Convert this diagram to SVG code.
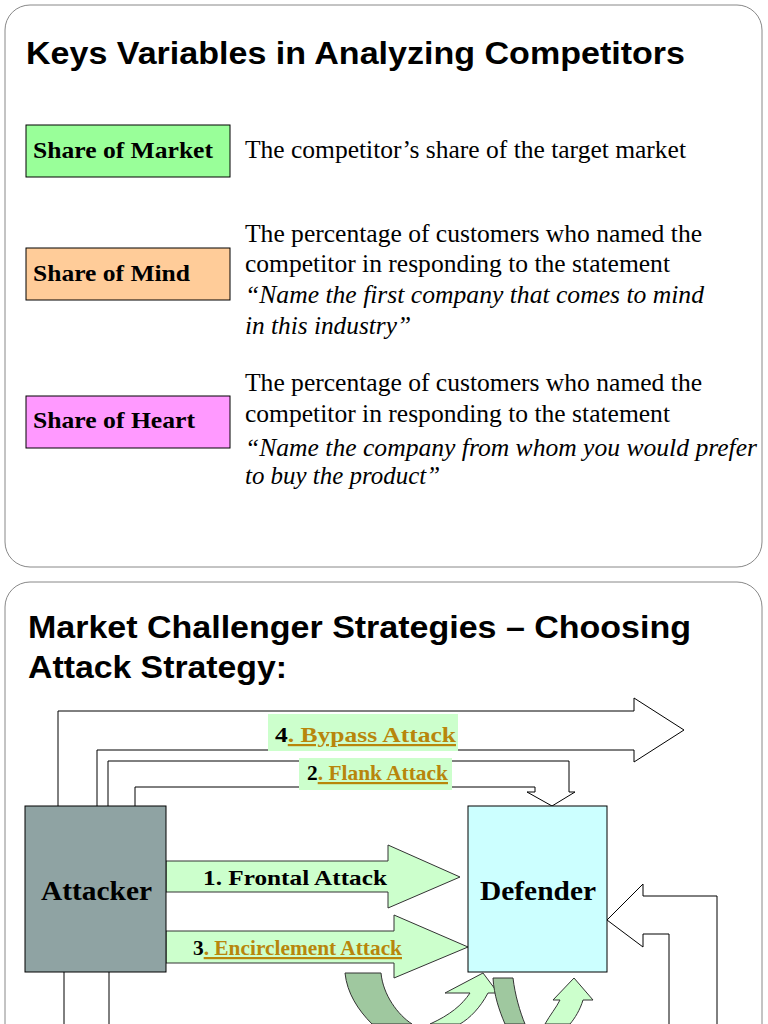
<svg xmlns="http://www.w3.org/2000/svg" width="768" height="1024" viewBox="0 0 768 1024">
<style>
.panel{fill:#fff;stroke:#888;stroke-width:1}
.title{font-family:"Liberation Sans",Arial,sans-serif;font-weight:bold;font-size:32px;fill:#000}
.key{font-family:"Liberation Serif","Times New Roman",serif;font-weight:bold;font-size:24px;fill:#000}
.desc{font-family:"Liberation Serif","Times New Roman",serif;font-size:25px;fill:#000}
.it{font-style:italic}
.box{stroke:#000;stroke-width:1}
.ln{fill:none;stroke:#000;stroke-width:1}
.lbl{font-family:"Liberation Serif","Times New Roman",serif;font-weight:bold;font-size:22px;fill:#000}
.lnk{fill:#b8860b;text-decoration:underline}
.node{font-family:"Liberation Serif","Times New Roman",serif;font-weight:bold;font-size:28px;fill:#000}
.ga{fill:#ccffcc;stroke:#333;stroke-width:1}
.dg{fill:#9fc89f;stroke:#333;stroke-width:1}
</style>
<rect width="768" height="1024" fill="#fff"/>
<rect class="panel" x="5" y="5" width="757" height="562" rx="25"/>
<text class="title" x="26" y="64" textLength="659" lengthAdjust="spacingAndGlyphs">Keys Variables in Analyzing Competitors</text>
<g id="market"><rect class="box" x="26" y="125" width="204" height="52" fill="#99ff99"/><text class="key" x="33" y="158" textLength="180" lengthAdjust="spacingAndGlyphs">Share of Market</text></g>
<text class="desc" x="245" y="158" textLength="441" lengthAdjust="spacingAndGlyphs">The competitor’s share of the target market</text>
<g id="mind"><rect class="box" x="26" y="248" width="204" height="52" fill="#ffcc99"/><text class="key" x="33" y="281" textLength="157" lengthAdjust="spacingAndGlyphs">Share of Mind</text></g>
<text class="desc" x="245" y="242" textLength="457" lengthAdjust="spacingAndGlyphs">The percentage of customers who named the</text>
<text class="desc" x="245" y="272" textLength="425" lengthAdjust="spacingAndGlyphs">competitor in responding to the statement</text>
<text class="desc it" x="245" y="303" textLength="459" lengthAdjust="spacingAndGlyphs">“Name the first company that comes to mind</text>
<text class="desc it" x="245" y="334" textLength="166" lengthAdjust="spacingAndGlyphs">in this industry”</text>
<g id="heart"><rect class="box" x="26" y="396" width="204" height="52" fill="#ff99ff"/><text class="key" x="33" y="428" textLength="162" lengthAdjust="spacingAndGlyphs">Share of Heart</text></g>
<text class="desc" x="245" y="391" textLength="457" lengthAdjust="spacingAndGlyphs">The percentage of customers who named the</text>
<text class="desc" x="245" y="422" textLength="425" lengthAdjust="spacingAndGlyphs">competitor in responding to the statement</text>
<text class="desc it" x="245" y="456" textLength="512" lengthAdjust="spacingAndGlyphs">“Name the company from whom you would prefer</text>
<text class="desc it" x="245" y="484" textLength="195" lengthAdjust="spacingAndGlyphs">to buy the product”</text>

<rect class="panel" x="5" y="582" width="757" height="470" rx="25"/>
<text class="title" x="28" y="638" textLength="663" lengthAdjust="spacingAndGlyphs">Market Challenger Strategies – Choosing</text>
<text class="title" x="28" y="678" textLength="259" lengthAdjust="spacingAndGlyphs">Attack Strategy:</text>

<g id="connectors">
<path class="ln" d="M58,806 V711 H634 V698 L684,730 L634,762 V750 H97 V806"/>
<path class="ln" d="M108,806 V761 H569 V792 H575 L552,806 L527,792 H535 V787 H135 V806"/>
<path class="ga" d="M166,861 H388 V845 L460,877 L388,908 V892 H166 Z"/>
<path class="ga" d="M166,931 H394 V915 L468,947 L394,978 V963 H166 Z"/>
<path class="ln" d="M717,1024 V896 H643 V884 L607,920 L643,947 V934 H669 V1024"/>
<path class="ln" d="M64,972 V1024 M109,972 V1024"/>
<path class="dg" d="M345,973 H381 C383,995 398,1015 412,1024 H372 C358,1010 347,993 345,973 Z"/>
<path class="ga" d="M430,1024 C450,1015 462,1005 470,993 L445,993 L483,973 L498,993 L488,993 C480,1008 470,1018 460,1024 Z"/>
<path class="dg" d="M493,978 H513 C515,995 520,1012 525,1024 H505 C499,1010 494,995 493,978 Z"/>
<path class="ga" d="M545,1024 C550,1015 556,1008 560,1000 L553,1000 L574,978 L593,1000 L583,1000 C580,1010 575,1018 570,1024 Z"/>
</g>

<rect x="268" y="714" width="190" height="37" fill="#ccffcc"/>
<text class="lbl" x="275" y="742" textLength="181" lengthAdjust="spacingAndGlyphs">4<tspan class="lnk">. Bypass Attack</tspan></text>
<rect x="299" y="758" width="153" height="32" fill="#ccffcc"/>
<text class="lbl" x="307" y="780" font-size="19" textLength="141" lengthAdjust="spacingAndGlyphs">2<tspan class="lnk">. Flank Attack</tspan></text>

<g id="attacker"><rect class="box" x="25" y="806" width="141" height="166" fill="#8fa3a3"/><text class="node" x="41" y="900" textLength="111" lengthAdjust="spacingAndGlyphs">Attacker</text></g>
<g id="defender"><rect class="box" x="468" y="806" width="139" height="166" fill="#ccffff"/><text class="node" x="480" y="900" textLength="116" lengthAdjust="spacingAndGlyphs">Defender</text></g>
<text class="lbl" x="203" y="885" textLength="184" lengthAdjust="spacingAndGlyphs">1. Frontal Attack</text>
<text class="lbl" x="193" y="955" font-size="19" textLength="209" lengthAdjust="spacingAndGlyphs">3<tspan class="lnk">. Encirclement Attack</tspan></text>
</svg>
